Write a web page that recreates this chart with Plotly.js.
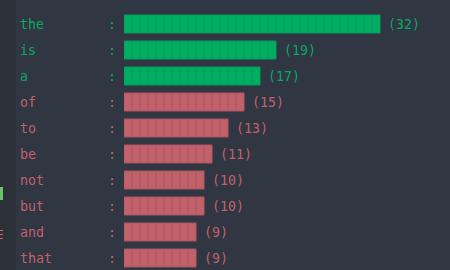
<!DOCTYPE html>
<html>
<head>
<meta charset="utf-8">
<script src="https://cdn.plot.ly/plotly-3.0.1.min.js"></script>
<style>
html,body{margin:0;padding:0;background:#303642;}
#chart{width:450px;height:270px;}
</style>
</head>
<body>
<div id="chart"></div>
<script>
// ---- data ----
const words = ["the", "is", "a", "of", "to", "be", "not", "but", "and", "that"];
const counts = [32, 19, 17, 15, 13, 11, 10, 10, 9, 9];
const highlightTop = 3; // first N words drawn in green

// ---- styles ----
const GREEN_BAR = "#00ae63";
const GREEN_EDGE = "#03a05c";
const GREEN_TEXT = "#06a868";
const RED_BAR = "#c1616b";
const RED_EDGE = "#b25862";
const RED_TEXT = "#c2616b";
const BG = "#303642";
const GUTTER = "#2b3039";
const FONT = "DejaVu Sans Mono, Liberation Mono, monospace";

// build one unit cell per count so the bar shows character cells
const segX = [], segY = [], segBase = [], segColor = [], segEdge = [];
words.forEach((w, i) => {
  const hi = i < highlightTop;
  for (let k = 0; k < counts[i]; k++) {
    segX.push(1);
    segY.push(i);
    segBase.push(k);
    segColor.push(hi ? GREEN_BAR : RED_BAR);
    segEdge.push(hi ? GREEN_EDGE : RED_EDGE);
  }
});

const trace = {
  type: "bar",
  orientation: "h",
  x: segX,
  y: segY,
  base: segBase,
  width: 0.69,
  marker: { color: segColor, line: { color: segEdge, width: 1 } },
  hoverinfo: "skip"
};

const annotations = [];
words.forEach((w, i) => {
  const col = i < highlightTop ? GREEN_TEXT : RED_TEXT;
  annotations.push({
    xref: "paper", yref: "y", x: -104 / 326, y: i, xanchor: "left", yanchor: "middle",
    xshift: -2,
    text: w, showarrow: false, font: { family: FONT, size: 13.3, color: col }
  });
  annotations.push({
    xref: "paper", yref: "y", x: -12 / 326, y: i, xanchor: "center", yanchor: "middle",
    text: ":", showarrow: false, font: { family: FONT, size: 13.3, color: col }
  });
  annotations.push({
    xref: "x", yref: "y", x: counts[i] + 1, y: i, xanchor: "left", yanchor: "middle",
    xshift: -2,
    text: "(" + counts[i] + ")", showarrow: false, font: { family: FONT, size: 13.3, color: col }
  });
});

const shapes = [
  { type: "rect", xref: "paper", yref: "paper", x0: -124 / 326, x1: -108 / 326, y0: 0, y1: 1,
    fillcolor: GUTTER, line: { width: 0 }, layer: "below" },
  { type: "rect", xref: "paper", yref: "paper", x0: -124 / 326, x1: -121 / 326, y0: 1 - 200 / 270, y1: 1 - 187 / 270,
    fillcolor: "#6ac26a", line: { width: 0 } },
  { type: "rect", xref: "paper", yref: "paper", x0: -124 / 326, x1: -121 / 326, y0: 1 - 231 / 270, y1: 1 - 230 / 270,
    fillcolor: "#e05a6a", line: { width: 0 } },
  { type: "rect", xref: "paper", yref: "paper", x0: -124 / 326, x1: -121 / 326, y0: 1 - 235 / 270, y1: 1 - 234 / 270,
    fillcolor: "#e05a6a", line: { width: 0 } },
  { type: "rect", xref: "paper", yref: "paper", x0: -124 / 326, x1: -121 / 326, y0: 1 - 239 / 270, y1: 1 - 238 / 270,
    fillcolor: "#e05a6a", line: { width: 0 } }
];

const layout = {
  width: 450, height: 270,
  margin: { l: 124, r: 0, t: 0, b: 0, pad: 0 },
  paper_bgcolor: BG, plot_bgcolor: BG,
  showlegend: false,
  barmode: "overlay",
  xaxis: { range: [0, 326 / 8], visible: false, fixedrange: true },
  yaxis: { range: [246 / 26, -24 / 26], visible: false, fixedrange: true },
  annotations: annotations,
  shapes: shapes
};

Plotly.newPlot("chart", [trace], layout, { staticPlot: true, displayModeBar: false });
</script>
</body>
</html>
